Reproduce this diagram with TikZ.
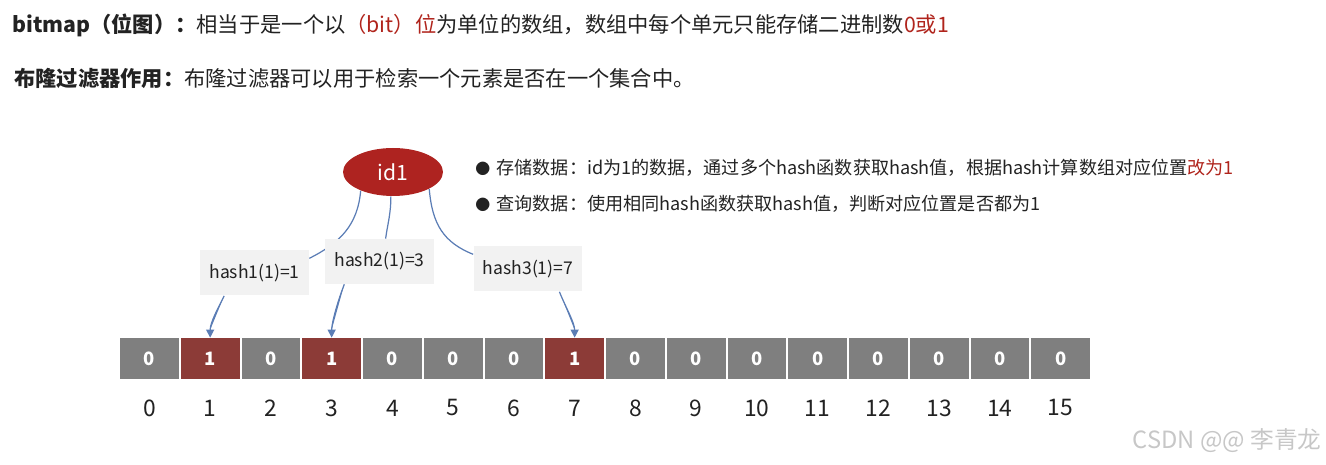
\documentclass[tikz,border=0pt]{standalone}
\usepackage{fontspec}
\setmainfont{Noto Sans CJK SC}
\usepackage{xcolor}
\usepackage{tikz}
\usetikzlibrary{positioning, arrows.meta, shapes.geometric, backgrounds}
\definecolor{bitgray}{HTML}{7F7F7F}
\definecolor{bitred}{HTML}{8C3B37}
\definecolor{keyred}{HTML}{AE2320}
\definecolor{hilite}{HTML}{B0241C}
\definecolor{hashbg}{HTML}{F2F2F2}
\definecolor{link}{HTML}{5B7DB5}
\definecolor{ink}{HTML}{222222}
\tikzset{
  heading/.style    = {anchor=west, inner sep=0pt, text=ink,
                       font=\fontsize{12.1}{14}\selectfont},
  bulletline/.style = {anchor=west, inner sep=0pt, text=ink,
                       font=\fontsize{10.3}{12}\selectfont},
  idnode/.style     = {ellipse, fill=keyred, minimum width=2.0cm,
                       minimum height=0.96cm, text=white,
                       font=\fontsize{12}{14}\selectfont},
  hashbox/.style    = {rectangle, fill=hashbg, minimum width=2.18cm,
                       minimum height=0.9cm, text=ink,
                       font=\fontsize{10}{12}\selectfont},
  bit0/.style       = {rectangle, fill=bitgray, minimum width=1.175cm,
                       minimum height=0.82cm, inner sep=0pt, text=white,
                       font=\fontsize{10.5}{12}\selectfont\bfseries},
  bit1/.style       = {bit0, fill=bitred},
  idx/.style        = {text=ink, font=\fontsize{13}{15}\selectfont},
  wmark/.style      = {anchor=east, inner sep=0pt, text=black!22,
                       font=\fontsize{13.5}{15}\selectfont},
  lnk/.style        = {draw=link, line width=0.7pt},
  arr/.style        = {-{Triangle[length=1.6mm,width=1.6mm]}, draw=link,
                       fill=link, line width=0.7pt},
}
\newcommand{\dotmark}{{\fontsize{8.5}{10}\selectfont●}\hspace{0.35em}}

\begin{document}
\begin{tikzpicture}[x=0.02cm, y=-0.02cm]
  \useasboundingbox (0,0) rectangle (1326,465);

  % title lines
  \node[heading] (t1) at (12,25) {\textbf{bitmap（位图）：}相当于是一个以\textcolor{hilite}{（bit）位}为单位的数组，数组中每个单元只能存储二进制数\textcolor{hilite}{0或1}};
  \node[heading] (t2) at (14,78.5) {\textbf{布隆过滤器作用：}布隆过滤器可以用于检索一个元素是否在一个集合中。};

  % key and hash values
  \node[idnode]  (id) at (393,172)   {id1};
  \node[hashbox] (h1) at (254.5,273) {hash1(1)=1};
  \node[hashbox] (h2) at (379.5,261.5) {hash2(1)=3};
  \node[hashbox] (h3) at (528,269)   {hash3(1)=7};

  \node[bulletline] (b1) at (475,168) {\dotmark 存储数据：id为1的数据，通过多个hash函数获取hash值，根据hash计算数组对应位置\textcolor{hilite}{改为1}};
  \node[bulletline] (b2) at (475,204) {\dotmark 查询数据：使用相同hash函数获取hash值，判断对应位置是否都为1};

  % bit array
  \foreach \i/\b in {0/0,1/1,2/0,3/1,4/0,5/0,6/0,7/1,8/0,9/0,10/0,11/0,12/0,13/0,14/0,15/0}{
    \node[bit\b] (c\i) at ({149.4+60.75*\i},358.5) {\b};
    \node[idx]   (n\i) at ({149.4+60.75*\i},408)   {\i};
  }

  \begin{scope}[on background layer]
    \draw[lnk] (id.210) .. controls +(-3,35) and +(30,-15) .. (h1.15);
    \draw[lnk] (id.265) .. controls +(0,18) and +(2,-15) .. (h2.75);
    \draw[lnk] (id.335) .. controls +(3,35) and +(-30,-12) .. (h3.165);
  \end{scope}
  \draw[arr] (h1.217) .. controls +(-6,12) and +(0,-15) .. (c1.north);
  \draw[arr] (h2.213) .. controls +(-6,15) and +(0,-15) .. (c3.north);
  \draw[arr] (h3.324) .. controls +(6,15) and +(0,-15) .. (c7.north);

  \node[wmark] (wm) at (1322,441) {CSDN @@ 李青龙};
\end{tikzpicture}
\end{document}
